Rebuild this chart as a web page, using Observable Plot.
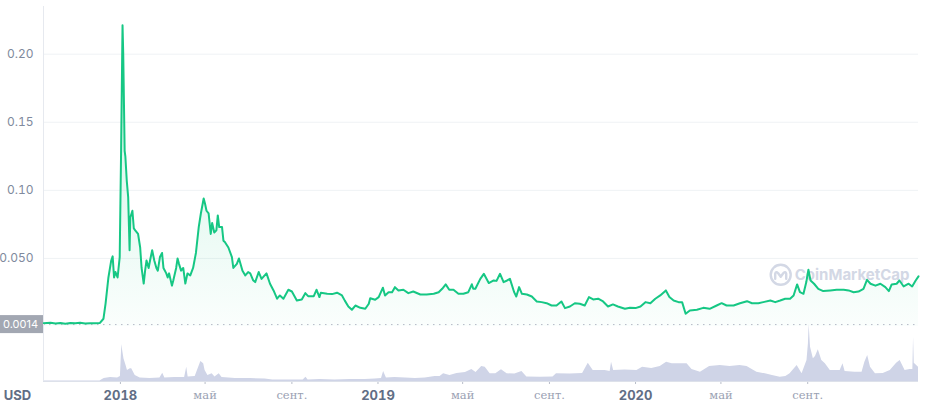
<!DOCTYPE html>
<html><head><meta charset="utf-8">
<script src="https://cdn.jsdelivr.net/npm/d3@7"></script>
<script src="https://cdn.jsdelivr.net/npm/@observablehq/plot@0.6"></script>
<style>
html,body{margin:0;padding:0;background:#fff;}
#chart{position:relative;width:927px;height:406px;font-family:Inter,sans-serif;}
#chart svg{position:absolute;left:0;top:0;}
</style></head><body><div id="chart"></div>
<script>
// ---- data ----
const priceDates = [
  "2017-09-14","2017-09-24","2017-10-01","2017-10-08","2017-10-15","2017-10-22","2017-10-29","2017-11-05","2017-11-12","2017-11-19","2017-11-26","2017-12-03",
  "2017-12-08","2017-12-11","2017-12-15","2017-12-19","2017-12-21","2017-12-23","2017-12-25","2017-12-28","2017-12-31",
  "2018-01-02","2018-01-04","2018-01-05","2018-01-07","2018-01-08","2018-01-10","2018-01-12","2018-01-14","2018-01-15","2018-01-18","2018-01-20","2018-01-22","2018-01-26","2018-01-29","2018-01-31",
  "2018-02-03","2018-02-05","2018-02-07","2018-02-10","2018-02-12","2018-02-15","2018-02-18","2018-02-21","2018-02-23","2018-02-26","2018-03-01","2018-03-03","2018-03-07","2018-03-09","2018-03-11","2018-03-15","2018-03-17","2018-03-21","2018-03-23","2018-03-25","2018-03-28","2018-03-31",
  "2018-04-03","2018-04-06","2018-04-10","2018-04-14","2018-04-18","2018-04-22","2018-04-25","2018-04-29","2018-05-01","2018-05-03","2018-05-06","2018-05-09","2018-05-11","2018-05-14","2018-05-17","2018-05-19","2018-05-21","2018-05-25","2018-05-27","2018-05-29",
  "2018-06-03","2018-06-08","2018-06-10","2018-06-15","2018-06-18","2018-06-23","2018-06-27","2018-07-01","2018-07-04","2018-07-08","2018-07-11","2018-07-16","2018-07-20","2018-07-27","2018-08-01","2018-08-06","2018-08-11","2018-08-15","2018-08-20","2018-08-27",
  "2018-09-01","2018-09-08","2018-09-15","2018-09-20","2018-09-24","2018-10-02","2018-10-06","2018-10-10","2018-10-12","2018-10-21","2018-10-28","2018-11-04","2018-11-11","2018-11-15","2018-11-20","2018-11-25","2018-11-30","2018-12-07","2018-12-14","2018-12-19","2018-12-21","2018-12-28",
  "2019-01-02","2019-01-08","2019-01-11","2019-01-16","2019-01-21","2019-01-25","2019-01-30","2019-02-06","2019-02-13","2019-02-20","2019-03-02","2019-03-11","2019-03-21","2019-03-28","2019-04-02","2019-04-07","2019-04-12","2019-04-18","2019-04-25",
  "2019-05-02","2019-05-09","2019-05-14","2019-05-16","2019-05-19","2019-05-26","2019-05-31","2019-06-07","2019-06-14","2019-06-18","2019-06-23","2019-06-28","2019-07-03","2019-07-07","2019-07-13","2019-07-16","2019-07-20","2019-07-24","2019-07-31","2019-08-07","2019-08-14","2019-08-21","2019-08-28",
  "2019-09-04","2019-09-11","2019-09-18","2019-09-23","2019-09-30","2019-10-07","2019-10-14","2019-10-21","2019-10-27","2019-11-02","2019-11-09","2019-11-16","2019-11-23","2019-11-30","2019-12-07","2019-12-17","2019-12-24",
  "2020-01-01","2020-01-08","2020-01-15","2020-01-22","2020-01-29","2020-02-05","2020-02-13","2020-02-18","2020-02-24","2020-03-02","2020-03-07","2020-03-12","2020-03-18","2020-03-28","2020-04-06","2020-04-15","2020-04-25","2020-05-02","2020-05-09","2020-05-19","2020-05-28","2020-06-07","2020-06-14","2020-06-23","2020-06-30",
  "2020-07-10","2020-07-17","2020-07-24","2020-07-31","2020-08-07","2020-08-12","2020-08-17","2020-08-21","2020-08-26","2020-08-30","2020-09-02","2020-09-05","2020-09-10","2020-09-16","2020-09-23",
  "2020-10-03","2020-10-12","2020-10-22","2020-10-29","2020-11-05","2020-11-12","2020-11-19","2020-11-24","2020-11-29","2020-12-06","2020-12-13","2020-12-20","2020-12-25","2020-12-29","2021-01-05","2021-01-09","2021-01-15","2021-01-22","2021-01-27","2021-02-01","2021-02-05"
];
const priceValues = [
  0.0024,0.0027,0.0022,0.0026,0.0021,0.0025,0.0023,0.0027,0.0022,0.0024,0.0023,0.0026,
  0.0057,0.017,0.036,0.0485,0.0515,0.036,0.040,0.036,0.051,
  0.13,0.2213,0.20,0.129,0.125,0.107,0.095,0.056,0.080,0.085,0.072,0.0706,0.068,0.058,0.043,
  0.0315,0.041,0.0485,0.043,0.0485,0.056,0.0485,0.043,0.041,0.051,0.054,0.043,0.039,0.036,0.039,0.030,0.034,0.043,0.050,0.046,0.041,0.043,
  0.0315,0.039,0.0375,0.043,0.054,0.073,0.083,0.094,0.090,0.085,0.083,0.068,0.076,0.069,0.0706,0.0816,0.073,0.073,0.063,0.062,
  0.058,0.051,0.043,0.046,0.050,0.041,0.0375,0.040,0.039,0.034,0.0326,0.040,0.035,0.039,0.0314,0.0265,0.0204,0.0228,0.0204,0.027,
  0.0257,0.0191,0.0199,0.0245,0.0223,0.0223,0.027,0.0216,0.0248,0.024,0.0238,0.0248,0.0228,0.019,0.0147,0.0123,0.0154,0.0137,0.013,0.0167,0.0208,0.0196,
  0.0216,0.0285,0.0228,0.0252,0.0252,0.0289,0.0265,0.027,0.0245,0.0257,0.0235,0.0235,0.024,0.0252,0.0277,0.0309,0.027,0.027,0.024,
  0.024,0.0252,0.031,0.0277,0.0277,0.035,0.0387,0.0319,0.0338,0.0335,0.0387,0.0326,0.0338,0.035,0.0252,0.022,0.0289,0.024,0.0235,0.022,0.0184,0.0179,0.0171,
  0.0154,0.0154,0.0184,0.0135,0.0147,0.0171,0.0167,0.0154,0.0216,0.0199,0.0204,0.0184,0.0147,0.0162,0.0147,0.013,0.0137,
  0.0135,0.0147,0.0179,0.0171,0.0204,0.0228,0.0265,0.0216,0.0191,0.0179,0.0179,0.0093,0.0118,0.0123,0.0137,0.013,0.0154,0.0171,0.0154,0.0154,0.0171,0.0186,0.0171,0.0171,0.0179,
  0.0191,0.0179,0.0191,0.0204,0.0204,0.0228,0.0309,0.0252,0.024,0.0326,0.0417,0.0338,0.0314,0.0277,0.026,
  0.0265,0.027,0.027,0.0265,0.0252,0.0257,0.0277,0.0343,0.0314,0.030,0.0314,0.0289,0.026,0.0309,0.0314,0.0338,0.0294,0.0314,0.0294,0.0338,0.0368
];
const volumeDates = [
  "2017-09-14","2017-12-03","2017-12-09","2017-12-18","2017-12-28","2018-01-01","2018-01-03","2018-01-04","2018-01-06","2018-01-09",
  "2018-01-11","2018-01-15","2018-01-17","2018-01-22","2018-01-29","2018-02-12","2018-02-26","2018-03-02","2018-03-05","2018-03-19",
  "2018-04-02","2018-04-05","2018-04-07","2018-04-17","2018-04-25","2018-04-29","2018-05-01","2018-05-05","2018-05-11","2018-05-15",
  "2018-05-21","2018-05-25","2018-06-13","2018-07-04","2018-07-25","2018-08-05","2018-08-30","2018-09-17","2018-09-21","2018-09-24",
  "2018-10-11","2018-11-01","2018-11-23","2018-12-14","2018-12-28","2019-01-06","2019-01-09","2019-01-13","2019-01-25","2019-02-09",
  "2019-02-23","2019-03-09","2019-03-23","2019-03-30","2019-04-04","2019-04-13","2019-04-23","2019-05-05","2019-05-14","2019-05-20",
  "2019-05-28","2019-06-02","2019-06-09","2019-06-17","2019-06-25","2019-07-03","2019-07-14","2019-07-24","2019-07-31","2019-08-19",
  "2019-09-06","2019-09-11","2019-09-30","2019-10-18","2019-10-26","2019-11-02","2019-11-19","2019-11-26","2019-11-28","2019-12-01",
  "2019-12-17","2020-01-03","2020-01-11","2020-01-24","2020-02-05","2020-02-14","2020-02-22","2020-03-04","2020-03-14","2020-03-21",
  "2020-04-02","2020-04-15","2020-04-30","2020-05-14","2020-05-28","2020-06-07","2020-06-21","2020-07-03","2020-07-13","2020-07-24",
  "2020-08-01","2020-08-07","2020-08-17","2020-08-24","2020-08-31","2020-09-02","2020-09-03","2020-09-05","2020-09-09","2020-09-12",
  "2020-09-16","2020-09-21","2020-09-26","2020-10-03","2020-10-17","2020-10-21","2020-10-24","2020-11-07","2020-11-17","2020-11-21",
  "2020-11-25","2020-11-29","2020-12-06","2020-12-17","2020-12-27","2021-01-05","2021-01-10","2021-01-17","2021-01-24","2021-01-28",
  "2021-01-29","2021-01-30","2021-02-05"
];
const volumeValues = [
  0.5,0.5,3,4,3.5,5,37,31.7,22.7,16,
  11,12.7,12.7,6,3.5,3,3.5,8.3,3.5,4,
  4,14.3,4.5,5,20,17.7,11,6,7.7,4.5,
  7.7,4,3,3,2.5,1.5,1.5,1.5,4.3,1.5,
  2,1.5,2,2,2.5,3,10,3.5,4,3.5,
  3,3.5,5,5,7.7,6,8,9,12,9,
  15,14.3,7.7,7.7,11.7,7.7,7.5,10,4.5,4.3,
  4.5,7.7,7.5,8,18.3,11,11,10,19.3,11,
  11.5,11,14.3,13,15,19.3,17.7,17.7,17.7,12,
  9.3,15,16,15,16,15,9.3,7.7,6,4.3,
  5,7.7,16,7.7,21,37.7,57,34.3,22.7,25,
  31.7,21,17.7,11,11,17.7,10,9.3,9.3,19.3,
  26,14.3,7.7,8,11,18.3,21,11,12,12,
  44.3,18.3,14.3
];
const yTickValues = [0.05, 0.10, 0.15, 0.20];
const yTickLabels = ["0.050", "0.10", "0.15", "0.20"];
const startPrice = 0.0014;
const startLabel = "0.0014";
const xTickDates = ["2018-01-01","2018-05-01","2018-09-01","2019-01-01","2019-05-01","2019-09-01","2020-01-01","2020-05-01","2020-09-01"];
const xTickLabels = ["2018","май","сент.","2019","май","сент.","2020","май","сент."];
const currencyLabel = "USD";
const watermark = "CoinMarketCap";
const xStart = "2017-09-14", xEnd = "2021-02-05";

// ---- build ----
if (priceDates.length !== priceValues.length) throw new Error("price len " + priceDates.length + " vs " + priceValues.length);
if (volumeDates.length !== volumeValues.length) throw new Error("vol len " + volumeDates.length + " vs " + volumeValues.length);
const price = priceDates.map((d, i) => ({date: new Date(d), value: priceValues[i]}));
const volume = volumeDates.map((d, i) => ({date: new Date(d), value: volumeValues[i]}));
const xDomain = [new Date(xStart), new Date(xEnd)];
const yLabelMap = new Map(yTickValues.map((v, i) => [v, yTickLabels[i]]));
const xTicks = xTickDates.map(d => new Date(d));
const xLabelMap = new Map(xTicks.map((d, i) => [+d, xTickLabels[i]]));

const W = 927, H = 406, ML = 43, MR = 9;
const GREEN = "#16c784";
const WM = "#d3d8e5";

const priceChart = Plot.plot({
  width: W, height: H,
  marginLeft: ML, marginRight: MR, marginTop: 6, marginBottom: 80,
  style: {background: "transparent", fontFamily: "Inter, sans-serif", fontSize: "12px", color: "#808a9d", overflow: "visible"},
  x: {type: "utc", domain: xDomain, axis: null},
  y: {domain: [0, 0.235], ticks: yTickValues, tickFormat: d => yLabelMap.get(d), tickSize: 0, tickPadding: 10, label: null},
  marks: [
    Plot.ruleY(yTickValues, {stroke: "#eff2f5", strokeWidth: 1}),
    Plot.ruleX([xDomain[0]], {stroke: "#e6e9ef"}),
    Plot.text([watermark], {text: d => d, frameAnchor: "bottom-right", textAnchor: "end", lineAnchor: "middle", dx: -9, dy: -51, fontSize: 15, fontWeight: 700, fill: WM}),
    Plot.areaY(price, {x: "date", y: "value", fill: "url(#priceGrad)"}),
    Plot.ruleY([startPrice], {stroke: "#b3b9c6", strokeDasharray: "1.5,4.5"}),
    Plot.lineY(price, {x: "date", y: "value", stroke: GREEN, strokeWidth: 2, strokeLinejoin: "round"})
  ]
});

const volChart = Plot.plot({
  width: W, height: H,
  marginLeft: ML, marginRight: MR, marginTop: 324, marginBottom: 25,
  style: {background: "transparent", fontFamily: "Inter, sans-serif", fontSize: "12px", color: "#616e85", overflow: "visible", pointerEvents: "none"},
  x: {type: "utc", domain: xDomain, ticks: xTicks, tickFormat: d => xLabelMap.get(+d), tickSize: 3, tickPadding: 6, label: null},
  y: {domain: [0, 57], axis: null},
  marks: [
    Plot.areaY(volume, {x: "date", y: "value", fill: "#cfd4e7"}),
    Plot.ruleY([0], {stroke: "#dde1ea"}),
    Plot.ruleX([xDomain[0]], {stroke: "#e6e9ef"}),
    Plot.text([currencyLabel], {text: d => d, frameAnchor: "bottom-left", textAnchor: "middle", lineAnchor: "middle", dx: -26, dy: 14, fontSize: 13, fontWeight: 700, fill: "#616e85"})
  ]
});

const root = document.getElementById("chart");
root.appendChild(priceChart);
root.appendChild(volChart);

// gradient for the area
const psvg = d3.select(priceChart);
const grad = psvg.insert("defs", ":first-child").append("linearGradient")
  .attr("id", "priceGrad").attr("x1", 0).attr("y1", 0).attr("x2", 0).attr("y2", 1);
grad.append("stop").attr("offset", "0%").attr("stop-color", GREEN).attr("stop-opacity", 0.22);
grad.append("stop").attr("offset", "100%").attr("stop-color", GREEN).attr("stop-opacity", 0.02);

// boxed start-price label on the y axis
const yp = priceChart.scale("y").apply(startPrice);
const box = psvg.append("g");
box.append("rect").attr("x", 0).attr("y", yp - 9).attr("width", ML).attr("height", 18).attr("fill", "#a2a7b2");
box.append("text").attr("x", ML - 5).attr("y", yp).attr("dy", "0.35em").attr("text-anchor", "end")
  .attr("fill", "#ffffff").attr("font-size", 11).attr("font-family", "Inter, sans-serif").text(startLabel);

// watermark logo placed left of the watermark text (measured in the page)
const svgRect = priceChart.getBoundingClientRect();
psvg.selectAll("text").each(function () {
  if (this.textContent === watermark) {
    const r = this.getBoundingClientRect();
    const cx = r.left - svgRect.left - 14, cy = r.top - svgRect.top + r.height / 2;
    const lg = psvg.append("g").attr("transform", `translate(${cx},${cy})`)
      .attr("fill", "none").attr("stroke", WM).attr("stroke-width", 2.4).attr("stroke-linecap", "round").attr("stroke-linejoin", "round");
    lg.append("circle").attr("r", 10);
    lg.append("path").attr("d", "M-5.5,4 L-5.5,-1 Q-5,-4 -2.5,-1.5 L0,2 L2.5,-1.5 Q5,-4 5.5,-1 L5.5,4");
    // keep the logo behind the area and line
    const areaG = priceChart.querySelector("g[aria-label='area']");
    if (areaG) priceChart.insertBefore(lg.node(), areaG);
  }
});

// x axis styling: year labels bold, month labels serif and light
const vsvg = d3.select(volChart);
vsvg.selectAll("g[aria-label^='x-axis'] path, g[aria-label^='x-axis'] line").attr("stroke", "#b8bdc9");
vsvg.selectAll("g[aria-label^='x-axis'] text").each(function () {
  const t = this.textContent;
  if (/^\d{4}$/.test(t)) {
    d3.select(this).attr("font-weight", 700).attr("font-size", 13).attr("fill", "#616e85");
  } else {
    d3.select(this).attr("font-weight", 400).attr("font-size", 11.5).attr("font-family", "'DejaVu Serif', 'Liberation Serif', serif").attr("fill", "#9aa1b3");
  }
});
</script>
</body></html>
